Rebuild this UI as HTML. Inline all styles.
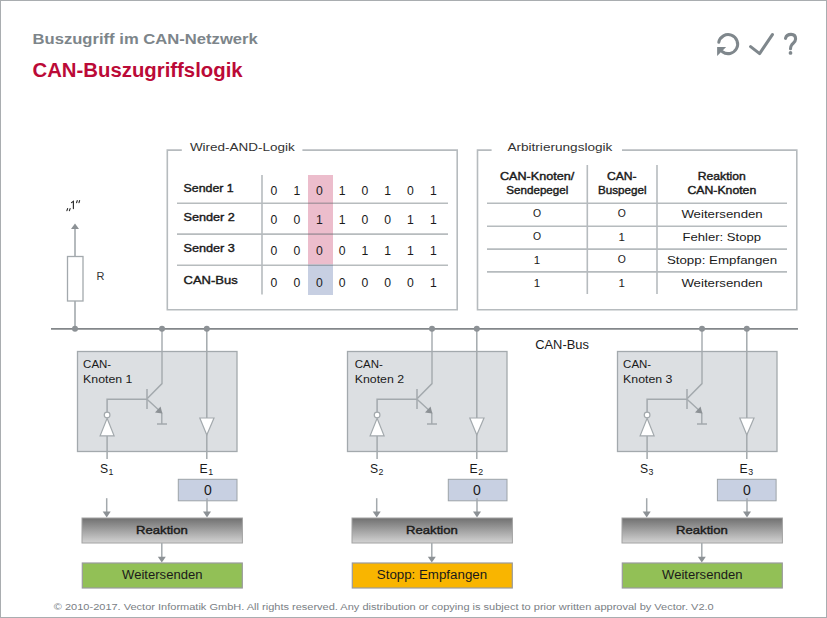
<!DOCTYPE html>
<html><head><meta charset="utf-8"><style>
html,body{margin:0;padding:0;background:#fff;}
body{width:827px;height:618px;overflow:hidden;position:relative;}
svg{position:absolute;left:0;top:0;font-family:"Liberation Sans", sans-serif;}
.frame{position:absolute;left:0;top:0;width:825px;height:616px;border:1px solid #a9adb0;}
</style></head><body>
<div class="frame"></div>
<svg width="827" height="618" viewBox="0 0 827 618">
<defs>
<linearGradient id="grad" x1="0" y1="0" x2="0" y2="1"><stop offset="0" stop-color="#707070"/><stop offset="1" stop-color="#d3d3d3"/></linearGradient>
</defs>
<text x="32.5" y="43.8" font-size="14.8" fill="#7d858a" font-weight="bold" textLength="225.3" lengthAdjust="spacingAndGlyphs">Buszugriff im CAN-Netzwerk</text>
<text x="32.5" y="76.9" font-size="19.4" fill="#bb0a37" font-weight="bold" textLength="210.1" lengthAdjust="spacingAndGlyphs">CAN-Buszugriffslogik</text>
<g fill="none" stroke="#7f878c" stroke-width="3.05" stroke-linecap="round" stroke-linejoin="round"><path d="M718.8 42.3 A9.5 9.5 0 1 1 722.4 51.7"/><path d="M750.6 46.6 L759.6 53.6 L772.4 34.6"/><path d="M785.5 38.3 C786.3 35.3 788.6 34.4 791.1 34.4 C794 34.4 795.6 36.3 795.6 38.9 C795.6 41.6 793.3 42.9 791.9 44.6 C790.9 45.9 790.5 46.9 790.5 48.7" stroke-width="3.1"/></g><path d="M717.1 56 L717.1 47.1 L726.1 47.1 Z" fill="#7f878c"/><circle cx="790.5" cy="52.9" r="1.85" fill="#7f878c"/>
<path d="M181.8 150.1 H167.3 V309.7 H457.2 V150.1 H302.4" fill="none" stroke="#b6bbbe" stroke-width="1.6"/>
<text x="189.9" y="151.3" font-size="11.6" fill="#333" textLength="104.9" lengthAdjust="spacingAndGlyphs">Wired-AND-Logik</text>
<rect x="308" y="175" width="25" height="89.5" fill="#ecbdcc"/>
<rect x="308" y="264.5" width="25" height="30.5" fill="#c7cfe2"/>
<line x1="177" y1="203.2" x2="448" y2="203.2" stroke="#5a666c" stroke-opacity="0.44" stroke-width="1.6"/>
<line x1="177" y1="234.1" x2="448" y2="234.1" stroke="#5a666c" stroke-opacity="0.44" stroke-width="1.6"/>
<line x1="177" y1="265.3" x2="448" y2="265.3" stroke="#5a666c" stroke-opacity="0.44" stroke-width="1.6"/>
<line x1="262" y1="175" x2="262" y2="294.6" stroke="#b6bbbe" stroke-width="1.6"/>
<text x="183.5" y="192.2" font-size="11.6" fill="#1a1a1a" stroke="#1a1a1a" stroke-width="0.4" textLength="50.2" lengthAdjust="spacingAndGlyphs">Sender 1</text>
<text x="274" y="194.89999999999998" font-size="12.2" fill="#1a1a1a" text-anchor="middle">0</text>
<text x="296.8" y="194.89999999999998" font-size="12.2" fill="#1a1a1a" text-anchor="middle">1</text>
<text x="319.5" y="194.89999999999998" font-size="12.2" fill="#1a1a1a" text-anchor="middle">0</text>
<text x="342.2" y="194.89999999999998" font-size="12.2" fill="#1a1a1a" text-anchor="middle">1</text>
<text x="365" y="194.89999999999998" font-size="12.2" fill="#1a1a1a" text-anchor="middle">0</text>
<text x="387.7" y="194.89999999999998" font-size="12.2" fill="#1a1a1a" text-anchor="middle">1</text>
<text x="410.5" y="194.89999999999998" font-size="12.2" fill="#1a1a1a" text-anchor="middle">0</text>
<text x="433.4" y="194.89999999999998" font-size="12.2" fill="#1a1a1a" text-anchor="middle">1</text>
<text x="183.5" y="221.2" font-size="11.6" fill="#1a1a1a" stroke="#1a1a1a" stroke-width="0.4" textLength="51.4" lengthAdjust="spacingAndGlyphs">Sender 2</text>
<text x="274" y="223.89999999999998" font-size="12.2" fill="#1a1a1a" text-anchor="middle">0</text>
<text x="296.8" y="223.89999999999998" font-size="12.2" fill="#1a1a1a" text-anchor="middle">0</text>
<text x="319.5" y="223.89999999999998" font-size="12.2" fill="#1a1a1a" text-anchor="middle">1</text>
<text x="342.2" y="223.89999999999998" font-size="12.2" fill="#1a1a1a" text-anchor="middle">1</text>
<text x="365" y="223.89999999999998" font-size="12.2" fill="#1a1a1a" text-anchor="middle">0</text>
<text x="387.7" y="223.89999999999998" font-size="12.2" fill="#1a1a1a" text-anchor="middle">0</text>
<text x="410.5" y="223.89999999999998" font-size="12.2" fill="#1a1a1a" text-anchor="middle">1</text>
<text x="433.4" y="223.89999999999998" font-size="12.2" fill="#1a1a1a" text-anchor="middle">1</text>
<text x="183.5" y="252.3" font-size="11.6" fill="#1a1a1a" stroke="#1a1a1a" stroke-width="0.4" textLength="51.4" lengthAdjust="spacingAndGlyphs">Sender 3</text>
<text x="274" y="255.0" font-size="12.2" fill="#1a1a1a" text-anchor="middle">0</text>
<text x="296.8" y="255.0" font-size="12.2" fill="#1a1a1a" text-anchor="middle">0</text>
<text x="319.5" y="255.0" font-size="12.2" fill="#1a1a1a" text-anchor="middle">0</text>
<text x="342.2" y="255.0" font-size="12.2" fill="#1a1a1a" text-anchor="middle">0</text>
<text x="365" y="255.0" font-size="12.2" fill="#1a1a1a" text-anchor="middle">1</text>
<text x="387.7" y="255.0" font-size="12.2" fill="#1a1a1a" text-anchor="middle">1</text>
<text x="410.5" y="255.0" font-size="12.2" fill="#1a1a1a" text-anchor="middle">1</text>
<text x="433.4" y="255.0" font-size="12.2" fill="#1a1a1a" text-anchor="middle">1</text>
<text x="183.5" y="284.3" font-size="11.6" fill="#1a1a1a" stroke="#1a1a1a" stroke-width="0.4" textLength="54.2" lengthAdjust="spacingAndGlyphs">CAN-Bus</text>
<text x="274" y="287.0" font-size="12.2" fill="#1a1a1a" text-anchor="middle">0</text>
<text x="296.8" y="287.0" font-size="12.2" fill="#1a1a1a" text-anchor="middle">0</text>
<text x="319.5" y="287.0" font-size="12.2" fill="#1a1a1a" text-anchor="middle">0</text>
<text x="342.2" y="287.0" font-size="12.2" fill="#1a1a1a" text-anchor="middle">0</text>
<text x="365" y="287.0" font-size="12.2" fill="#1a1a1a" text-anchor="middle">0</text>
<text x="387.7" y="287.0" font-size="12.2" fill="#1a1a1a" text-anchor="middle">0</text>
<text x="410.5" y="287.0" font-size="12.2" fill="#1a1a1a" text-anchor="middle">0</text>
<text x="433.4" y="287.0" font-size="12.2" fill="#1a1a1a" text-anchor="middle">1</text>
<path d="M491.6 150.1 H477.5 V309.7 H796.8 V150.1 H622" fill="none" stroke="#b6bbbe" stroke-width="1.6"/>
<text x="507.4" y="151.3" font-size="11.6" fill="#333" textLength="105.0" lengthAdjust="spacingAndGlyphs">Arbitrierungslogik</text>
<line x1="487" y1="203.2" x2="787" y2="203.2" stroke="#b6bbbe" stroke-width="1.6"/>
<line x1="487" y1="226.3" x2="787" y2="226.3" stroke="#b6bbbe" stroke-width="1.6"/>
<line x1="487" y1="249.1" x2="787" y2="249.1" stroke="#b6bbbe" stroke-width="1.6"/>
<line x1="487" y1="271.9" x2="787" y2="271.9" stroke="#b6bbbe" stroke-width="1.6"/>
<line x1="587.3" y1="165" x2="587.3" y2="294" stroke="#b6bbbe" stroke-width="1.6"/>
<line x1="657" y1="165" x2="657" y2="294" stroke="#b6bbbe" stroke-width="1.6"/>
<text x="537.1" y="179.5" font-size="10.9" fill="#1a1a1a" stroke="#1a1a1a" stroke-width="0.4" text-anchor="middle" textLength="74.2" lengthAdjust="spacingAndGlyphs">CAN-Knoten/</text>
<text x="537.3" y="194.3" font-size="10.9" fill="#1a1a1a" stroke="#1a1a1a" stroke-width="0.4" text-anchor="middle" textLength="62.0" lengthAdjust="spacingAndGlyphs">Sendepegel</text>
<text x="621.7" y="179.5" font-size="10.9" fill="#1a1a1a" stroke="#1a1a1a" stroke-width="0.4" text-anchor="middle" textLength="29.6" lengthAdjust="spacingAndGlyphs">CAN-</text>
<text x="622.3" y="194.3" font-size="10.9" fill="#1a1a1a" stroke="#1a1a1a" stroke-width="0.4" text-anchor="middle" textLength="48.6" lengthAdjust="spacingAndGlyphs">Buspegel</text>
<text x="721.8" y="179.5" font-size="10.9" fill="#1a1a1a" stroke="#1a1a1a" stroke-width="0.4" text-anchor="middle" textLength="48.0" lengthAdjust="spacingAndGlyphs">Reaktion</text>
<text x="721.85" y="194.3" font-size="10.9" fill="#1a1a1a" stroke="#1a1a1a" stroke-width="0.4" text-anchor="middle" textLength="68.7" lengthAdjust="spacingAndGlyphs">CAN-Knoten</text>
<text x="537" y="217.10000000000002" font-size="10.4" fill="#1a1a1a" text-anchor="middle">O</text>
<text x="621.7" y="217.10000000000002" font-size="10.4" fill="#1a1a1a" text-anchor="middle">O</text>
<text x="722.05" y="217.8" font-size="11.3" fill="#1a1a1a" text-anchor="middle" textLength="81.3" lengthAdjust="spacingAndGlyphs">Weitersenden</text>
<text x="537" y="240.10000000000002" font-size="10.4" fill="#1a1a1a" text-anchor="middle">O</text>
<text x="621.7" y="240.8" font-size="11.5" fill="#1a1a1a" text-anchor="middle">1</text>
<text x="721.8" y="240.8" font-size="11.3" fill="#1a1a1a" text-anchor="middle" textLength="78.4" lengthAdjust="spacingAndGlyphs">Fehler: Stopp</text>
<text x="537" y="263.6" font-size="11.5" fill="#1a1a1a" text-anchor="middle">1</text>
<text x="621.7" y="262.90000000000003" font-size="10.4" fill="#1a1a1a" text-anchor="middle">O</text>
<text x="722.05" y="263.6" font-size="11.3" fill="#1a1a1a" text-anchor="middle" textLength="110.3" lengthAdjust="spacingAndGlyphs">Stopp: Empfangen</text>
<text x="537" y="286.5" font-size="11.5" fill="#1a1a1a" text-anchor="middle">1</text>
<text x="621.7" y="286.5" font-size="11.5" fill="#1a1a1a" text-anchor="middle">1</text>
<text x="722.05" y="286.5" font-size="11.3" fill="#1a1a1a" text-anchor="middle" textLength="81.3" lengthAdjust="spacingAndGlyphs">Weitersenden</text>
<line x1="75" y1="228" x2="75" y2="256" stroke="#a3a9ad" stroke-width="1.6"/>
<path d="M71 229 L75 223.5 L79 229 Z" fill="#8c9195"/>
<rect x="67.5" y="256.5" width="15.5" height="44.5" fill="#fff" stroke="#a3a9ad" stroke-width="1.3"/>
<line x1="75" y1="301" x2="75" y2="329" stroke="#a3a9ad" stroke-width="1.6"/>
<g fill="none" stroke="#2a2a2a" stroke-width="1.15" stroke-linecap="round"><path d="M67.6 208.6 L66.9 210.6 M70.1 208.6 L69.4 210.6"/><path d="M77.2 200.6 L76.6 202.6 M79.6 200.6 L79 202.6"/><path d="M71.5 202.6 L73.4 201.3 V208.6"/></g>
<text x="96.5" y="280.3" font-size="11" fill="#333">R</text>
<line x1="51" y1="328.9" x2="798" y2="328.9" stroke="#83878a" stroke-width="1.9"/>
<circle cx="75" cy="328.8" r="3" fill="#8c9195"/>
<text x="535.2" y="349" font-size="12.6" fill="#1a1a1a" textLength="53.7" lengthAdjust="spacingAndGlyphs">CAN-Bus</text>
<g transform="translate(0,0)"><rect x="77.5" y="351.5" width="159.5" height="100" fill="#dcdfe2" stroke="#a3a9ad" stroke-width="1.3"/><path d="M162 329 V383.6 L147.3 398.6" fill="none" stroke="#a3a9ad" stroke-width="1.4"/><line x1="147" y1="389" x2="147" y2="409" stroke="#a3a9ad" stroke-width="1.5"/><path d="M147 399.2 H107.1 V412.3" fill="none" stroke="#a3a9ad" stroke-width="1.5"/><circle cx="107.1" cy="415" r="2.85" fill="#fff" stroke="#a3a9ad" stroke-width="1.2"/><path d="M147.3 399.4 L161.2 412.3 M161.8 412.5 V424" fill="none" stroke="#a3a9ad" stroke-width="1.4"/><path d="M162.3 413.6 L155 412.5 L160.6 406.6 Z" fill="#8c9195"/><line x1="157" y1="424" x2="167" y2="424" stroke="#a3a9ad" stroke-width="1.5"/><path d="M107.1 418.3 L114.1 435.8 H100.1 Z" fill="#fff" stroke="#a3a9ad" stroke-width="1.2"/><line x1="107.1" y1="436" x2="107.1" y2="459" stroke="#a3a9ad" stroke-width="1.5"/><line x1="206.8" y1="329" x2="206.8" y2="459" stroke="#a3a9ad" stroke-width="1.5"/><path d="M199.8 418 H214 L206.8 435 Z" fill="#fff" stroke="#a3a9ad" stroke-width="1.2"/><circle cx="162" cy="328.8" r="3" fill="#8c9195"/><circle cx="206.8" cy="328.8" r="3" fill="#8c9195"/><text x="83.1" y="368.1" font-size="11" fill="#1a1a1a" textLength="28.1" lengthAdjust="spacingAndGlyphs">CAN-</text><text x="83.1" y="383.2" font-size="11" fill="#1a1a1a" textLength="49.3" lengthAdjust="spacingAndGlyphs">Knoten 1</text><text x="100" y="472.8" font-size="12.2" fill="#1a1a1a">S<tspan font-size="8.8" dx="0.4" dy="2">1</tspan></text><text x="199.6" y="472.8" font-size="12.2" fill="#1a1a1a">E<tspan font-size="8.8" dx="0.4" dy="2">1</tspan></text><rect x="178.3" y="479.3" width="58.7" height="21.5" fill="#c8d0e2" stroke="#9da3a8" stroke-width="1"/><text x="207.9" y="494.9" font-size="14" fill="#1a1a1a" text-anchor="middle">0</text><line x1="106.7" y1="498.2" x2="106.7" y2="512" stroke="#a3a9ad" stroke-width="1.5"/><path d="M102.7 511.6 L110.7 511.6 L106.7 517.4 Z" fill="#8c9195"/><line x1="207" y1="498.2" x2="207" y2="512" stroke="#a3a9ad" stroke-width="1.5"/><path d="M203 511.6 L211 511.6 L207 517.4 Z" fill="#8c9195"/><rect x="82" y="518" width="160.4" height="25" fill="url(#grad)" stroke="#a2a2a2" stroke-width="1"/><text x="161.9" y="533.9" font-size="11.5" fill="#1a1a1a" stroke="#1a1a1a" stroke-width="0.4" text-anchor="middle" textLength="51.8" lengthAdjust="spacingAndGlyphs">Reaktion</text><line x1="161.8" y1="543" x2="161.8" y2="558" stroke="#a3a9ad" stroke-width="1.5"/><path d="M157.8 556.8 L165.8 556.8 L161.8 562.4 Z" fill="#8c9195"/><rect x="82.3" y="563" width="160" height="25" fill="#92c056" stroke="#9a9b9d" stroke-width="1.2"/><text x="162.3" y="579" font-size="12" fill="#1a1a1a" text-anchor="middle" textLength="80.4" lengthAdjust="spacingAndGlyphs">Weitersenden</text></g>
<g transform="translate(270,0)"><rect x="77.5" y="351.5" width="159.5" height="100" fill="#dcdfe2" stroke="#a3a9ad" stroke-width="1.3"/><path d="M162 329 V383.6 L147.3 398.6" fill="none" stroke="#a3a9ad" stroke-width="1.4"/><line x1="147" y1="389" x2="147" y2="409" stroke="#a3a9ad" stroke-width="1.5"/><path d="M147 399.2 H107.1 V412.3" fill="none" stroke="#a3a9ad" stroke-width="1.5"/><circle cx="107.1" cy="415" r="2.85" fill="#fff" stroke="#a3a9ad" stroke-width="1.2"/><path d="M147.3 399.4 L161.2 412.3 M161.8 412.5 V424" fill="none" stroke="#a3a9ad" stroke-width="1.4"/><path d="M162.3 413.6 L155 412.5 L160.6 406.6 Z" fill="#8c9195"/><line x1="157" y1="424" x2="167" y2="424" stroke="#a3a9ad" stroke-width="1.5"/><path d="M107.1 418.3 L114.1 435.8 H100.1 Z" fill="#fff" stroke="#a3a9ad" stroke-width="1.2"/><line x1="107.1" y1="436" x2="107.1" y2="459" stroke="#a3a9ad" stroke-width="1.5"/><line x1="206.8" y1="329" x2="206.8" y2="459" stroke="#a3a9ad" stroke-width="1.5"/><path d="M199.8 418 H214 L206.8 435 Z" fill="#fff" stroke="#a3a9ad" stroke-width="1.2"/><circle cx="162" cy="328.8" r="3" fill="#8c9195"/><circle cx="206.8" cy="328.8" r="3" fill="#8c9195"/><text x="84.8" y="368.1" font-size="11" fill="#1a1a1a" textLength="28.1" lengthAdjust="spacingAndGlyphs">CAN-</text><text x="84.8" y="383.2" font-size="11" fill="#1a1a1a" textLength="49.3" lengthAdjust="spacingAndGlyphs">Knoten 2</text><text x="100" y="472.8" font-size="12.2" fill="#1a1a1a">S<tspan font-size="8.8" dx="0.4" dy="2">2</tspan></text><text x="199.6" y="472.8" font-size="12.2" fill="#1a1a1a">E<tspan font-size="8.8" dx="0.4" dy="2">2</tspan></text><rect x="178.3" y="479.3" width="58.7" height="21.5" fill="#c8d0e2" stroke="#9da3a8" stroke-width="1"/><text x="206.8" y="494.9" font-size="14" fill="#1a1a1a" text-anchor="middle">0</text><line x1="106.7" y1="498.2" x2="106.7" y2="512" stroke="#a3a9ad" stroke-width="1.5"/><path d="M102.7 511.6 L110.7 511.6 L106.7 517.4 Z" fill="#8c9195"/><line x1="207" y1="498.2" x2="207" y2="512" stroke="#a3a9ad" stroke-width="1.5"/><path d="M203 511.6 L211 511.6 L207 517.4 Z" fill="#8c9195"/><rect x="82" y="518" width="160.4" height="25" fill="url(#grad)" stroke="#a2a2a2" stroke-width="1"/><text x="161.9" y="533.9" font-size="11.5" fill="#1a1a1a" stroke="#1a1a1a" stroke-width="0.4" text-anchor="middle" textLength="51.8" lengthAdjust="spacingAndGlyphs">Reaktion</text><line x1="161.8" y1="543" x2="161.8" y2="558" stroke="#a3a9ad" stroke-width="1.5"/><path d="M157.8 556.8 L165.8 556.8 L161.8 562.4 Z" fill="#8c9195"/><rect x="82.3" y="563" width="160" height="25" fill="#f9b500" stroke="#9a9b9d" stroke-width="1.2"/><text x="161.95" y="579" font-size="12" fill="#1a1a1a" text-anchor="middle" textLength="110.3" lengthAdjust="spacingAndGlyphs">Stopp: Empfangen</text></g>
<g transform="translate(540,0)"><rect x="77.5" y="351.5" width="159.5" height="100" fill="#dcdfe2" stroke="#a3a9ad" stroke-width="1.3"/><path d="M162 329 V383.6 L147.3 398.6" fill="none" stroke="#a3a9ad" stroke-width="1.4"/><line x1="147" y1="389" x2="147" y2="409" stroke="#a3a9ad" stroke-width="1.5"/><path d="M147 399.2 H107.1 V412.3" fill="none" stroke="#a3a9ad" stroke-width="1.5"/><circle cx="107.1" cy="415" r="2.85" fill="#fff" stroke="#a3a9ad" stroke-width="1.2"/><path d="M147.3 399.4 L161.2 412.3 M161.8 412.5 V424" fill="none" stroke="#a3a9ad" stroke-width="1.4"/><path d="M162.3 413.6 L155 412.5 L160.6 406.6 Z" fill="#8c9195"/><line x1="157" y1="424" x2="167" y2="424" stroke="#a3a9ad" stroke-width="1.5"/><path d="M107.1 418.3 L114.1 435.8 H100.1 Z" fill="#fff" stroke="#a3a9ad" stroke-width="1.2"/><line x1="107.1" y1="436" x2="107.1" y2="459" stroke="#a3a9ad" stroke-width="1.5"/><line x1="206.8" y1="329" x2="206.8" y2="459" stroke="#a3a9ad" stroke-width="1.5"/><path d="M199.8 418 H214 L206.8 435 Z" fill="#fff" stroke="#a3a9ad" stroke-width="1.2"/><circle cx="162" cy="328.8" r="3" fill="#8c9195"/><circle cx="206.8" cy="328.8" r="3" fill="#8c9195"/><text x="83.1" y="368.1" font-size="11" fill="#1a1a1a" textLength="28.1" lengthAdjust="spacingAndGlyphs">CAN-</text><text x="83.1" y="383.2" font-size="11" fill="#1a1a1a" textLength="49.3" lengthAdjust="spacingAndGlyphs">Knoten 3</text><text x="100" y="472.8" font-size="12.2" fill="#1a1a1a">S<tspan font-size="8.8" dx="0.4" dy="2">3</tspan></text><text x="199.6" y="472.8" font-size="12.2" fill="#1a1a1a">E<tspan font-size="8.8" dx="0.4" dy="2">3</tspan></text><rect x="177.4" y="479.3" width="58.7" height="21.5" fill="#c8d0e2" stroke="#9da3a8" stroke-width="1"/><text x="206.8" y="494.9" font-size="14" fill="#1a1a1a" text-anchor="middle">0</text><line x1="106.7" y1="498.2" x2="106.7" y2="512" stroke="#a3a9ad" stroke-width="1.5"/><path d="M102.7 511.6 L110.7 511.6 L106.7 517.4 Z" fill="#8c9195"/><line x1="207" y1="498.2" x2="207" y2="512" stroke="#a3a9ad" stroke-width="1.5"/><path d="M203 511.6 L211 511.6 L207 517.4 Z" fill="#8c9195"/><rect x="82" y="518" width="160.4" height="25" fill="url(#grad)" stroke="#a2a2a2" stroke-width="1"/><text x="161.9" y="533.9" font-size="11.5" fill="#1a1a1a" stroke="#1a1a1a" stroke-width="0.4" text-anchor="middle" textLength="51.8" lengthAdjust="spacingAndGlyphs">Reaktion</text><line x1="161.8" y1="543" x2="161.8" y2="558" stroke="#a3a9ad" stroke-width="1.5"/><path d="M157.8 556.8 L165.8 556.8 L161.8 562.4 Z" fill="#8c9195"/><rect x="82.3" y="563" width="160" height="25" fill="#92c056" stroke="#9a9b9d" stroke-width="1.2"/><text x="162.3" y="579" font-size="12" fill="#1a1a1a" text-anchor="middle" textLength="80.4" lengthAdjust="spacingAndGlyphs">Weitersenden</text></g>
<text x="53.8" y="610" font-size="9.6" fill="#7a8085" textLength="659.9" lengthAdjust="spacingAndGlyphs">© 2010-2017. Vector Informatik GmbH. All rights reserved. Any distribution or copying is subject to prior written approval by Vector. V2.0</text>
</svg>
</body></html>
